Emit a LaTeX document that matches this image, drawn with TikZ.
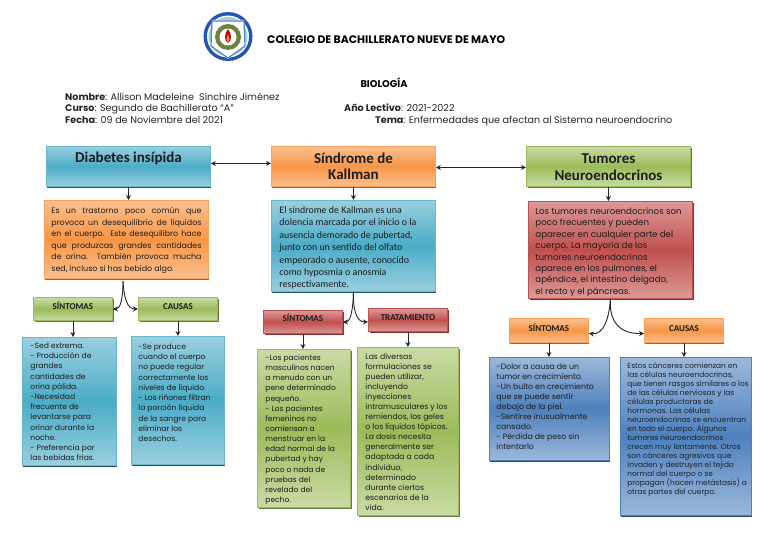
\documentclass[tikz,border=0pt]{standalone}
\usepackage{fontspec}
\usetikzlibrary{shadows,arrows.meta}
\setmainfont{Poppins}
\newfontfamily\calfam{Carlito}
\definecolor{ink}{HTML}{1C1C1C}
\definecolor{blA}{HTML}{9ACFDF}\definecolor{blB}{HTML}{4BACC6}\definecolor{blD}{HTML}{205867}
\definecolor{orA}{HTML}{FBC08F}\definecolor{orB}{HTML}{F79646}\definecolor{orD}{HTML}{C05A10}
\definecolor{grA}{HTML}{C9DBA6}\definecolor{grB}{HTML}{9BBB59}\definecolor{grD}{HTML}{667C3A}
\definecolor{reA}{HTML}{DB9A98}\definecolor{reB}{HTML}{C0504D}\definecolor{reD}{HTML}{8A302D}
\definecolor{nvA}{HTML}{9BB8DA}\definecolor{nvB}{HTML}{4F81BD}\definecolor{nvD}{HTML}{254A75}
\newcommand{\tb}[5]{\begin{minipage}[c][#2pt][t]{#1pt}\vspace*{#4pt}\raggedright\leftskip=#3pt\relax\rule{0pt}{11pt}#5\end{minipage}}
\newcommand{\jb}[5]{\begin{minipage}[c][#2pt][t]{#1pt}\vspace*{#4pt}\leftskip=#3pt\relax\rightskip=#3pt\relax\rule{0pt}{11pt}#5\end{minipage}}
\tikzset{
 x=1pt,y=-1pt,
 card/.style={anchor=north west,inner sep=0pt,line width=.9pt,text=ink,align=left},
 bluecard/.style={card,draw=blB!85!white,top color=blA,bottom color=blA,middle color=blB,general shadow={shadow xshift=.6pt,shadow yshift=-2pt,fill=blD}},
 orangecard/.style={card,draw=orB!90!white,top color=orA,bottom color=orA,middle color=orB,general shadow={shadow xshift=.6pt,shadow yshift=-2pt,fill=orD}},
 greencard/.style={card,draw=grB,top color=grA,bottom color=grA,middle color=grB,general shadow={shadow xshift=1.2pt,shadow yshift=-2pt,fill=grD}},
 redcard/.style={card,draw=reB,top color=reA,bottom color=reA,middle color=reB,general shadow={shadow xshift=1.2pt,shadow yshift=-2pt,fill=reD}},
 navycard/.style={card,draw=nvB,top color=nvA,bottom color=nvA,middle color=nvB,general shadow={shadow xshift=.8pt,shadow yshift=-2pt,fill=nvD}},
 headtext/.style={font=\calfam\fontsize{15}{16}\selectfont\bfseries},
 smalltext/.style={font=\calfam\fontsize{9}{11}\selectfont\bfseries},
 body/.style={font=\fontsize{7.6}{10.1}\selectfont},
 link/.style={draw=black!85,line width=.9pt,-{Stealth[length=5pt,width=5pt]}},
 twolink/.style={draw=black!85,line width=.9pt,{Stealth[length=5pt,width=5pt]}-{Stealth[length=5pt,width=5pt]}},
 info/.style={anchor=base west,inner sep=0pt,font=\fontsize{9.6}{10}\selectfont,text=black!85},
}
\begin{document}
\begin{tikzpicture}
\useasboundingbox (0,0) rectangle (768,543);
\fill[white] (0,0) rectangle (768,543);
% crest
\fill[blB!60!blue!80!black] (228,36.5) circle (24.5);
\fill[white] (228,36.5) circle (21);
\fill[blA] (228,36.5) circle (19.5);
\fill[white] (212,20) -- (244,20) -- (246,46) -- (228,59) -- (210,46) -- cycle;
\draw[nvB,line width=1.2pt] (212,21) -- (244,21) -- (245,46) -- (228,58) -- (211,46) -- cycle;
\fill[grB!70!black] (228,37) circle (13);
\fill[white] (228,37) circle (8.5);
\fill[red!80!black] (228,29) .. controls (224,34) and (224,41) .. (228,43) .. controls (232,41) and (232,34) .. (228,29) -- cycle;
\fill[orB] (228,35) .. controls (226,38) and (226,41) .. (228,42) .. controls (230,41) and (230,38) .. (228,35) -- cycle;
% title
\node[anchor=base west,inner sep=0pt,font=\fontsize{10.9}{12}\selectfont\bfseries] (title) at (267,44) {COLEGIO DE BACHILLERATO NUEVE DE MAYO};
\node[anchor=base,inner sep=0pt,font=\fontsize{9.8}{10}\selectfont\bfseries] (bio) at (384,88) {BIOLOGÍA};
\node[info] (nom) at (65,100) {\textbf{Nombre}: Allison Madeleine\ \ Sinchire Jiménez};
\node[info] (cur) at (65,111.5) {\textbf{Curso}: Segundo de Bachillerato “A”};
\node[info] (fec) at (65,123) {\textbf{Fecha}: 09 de Noviembre del 2021};
\node[info] (ano) at (344,111.5) {\textbf{Año Lectivo}: 2021-2022};
\node[info] (tem) at (375,123) {\textbf{Tema}: Enfermedades que afectan al Sistema neuroendocrino};
% heads
\node[bluecard,headtext] (dia) at (46,146) {\tb{164}{40}{0}{5}{\centering Diabetes insípida}};
\node[orangecard,headtext] (kal) at (271,146) {\tb{164}{40}{0}{6}{\centering Síndrome de\\Kallman}};
\node[greencard,headtext] (tum) at (526,146) {\tb{164}{40}{0}{6}{\fontsize{15}{17}\selectfont\centering Tumores\\Neuroendocrinos}};
% descriptions
\node[orangecard,body] (dbox) at (44,200) {\jb{164}{78}{7}{2}{\fontsize{7.9}{11.6}\selectfont Es un trastorno poco común que\linebreak provoca un desequilibrio de líquidos\linebreak en el cuerpo. Este desequilibro hace\linebreak que produzcas grandes cantidades\linebreak de orina. También provoca mucha\linebreak sed, incluso si has bebido algo.}};
\node[bluecard] (kbox) at (271,200) {\tb{164}{91}{8}{2}{\calfam\fontsize{9.9}{12.4}\selectfont El síndrome de Kallman es una\\dolencia marcada por el inicio o la\\ausencia demorado de pubertad,\\junto con un sentido del olfato\\empeorado o ausente, conocido\\como hyposmia o anosmia\\respectivamente.}};
\node[redcard,body] (tbox) at (528,201) {\tb{164}{97}{7}{2}{\fontsize{8.65}{11.4}\selectfont Los tumores neuroendocrinos son\\poco frecuentes y pueden\\aparecer en cualquier parte del\\cuerpo. La mayoría de los\\tumores neuroendocrinos\\aparece en los pulmones, el\\apéndice, el intestino delgado,\\el recto y el páncreas.}};
% labels
\node[greencard,smalltext] (ds) at (33,297) {\tb{79}{23}{0}{1}{\centering SÍNTOMAS}};
\node[greencard,smalltext] (dc) at (138,297) {\tb{79}{23}{0}{1}{\centering CAUSAS}};
\node[redcard,smalltext] (ks) at (263,310) {\tb{79}{23}{0}{0}{\centering SÍNTOMAS}};
\node[redcard,smalltext] (kt) at (368,308) {\tb{79}{23}{0}{1}{\centering TRATAMIENTO}};
\node[orangecard,smalltext] (ts) at (509,318) {\tb{79}{24}{0}{2}{\centering SÍNTOMAS}};
\node[orangecard,smalltext] (tc) at (644,318) {\tb{79}{24}{0}{2}{\centering CAUSAS}};
% detail boxes
\node[bluecard,body] (d1) at (22,337) {\tb{94}{128}{8}{0}{\fontsize{7.6}{10.2}\selectfont -Sed extrema.\\- Producción de\\grandes\\cantidades de\\orina pálida.\\-Necesidad\\frecuente de\\levantarse para\\orinar durante la\\noche.\\- Preferencia por\\las bebidas frías.}};
\node[bluecard,body] (d2) at (131,336) {\tb{93}{128}{7}{2}{\fontsize{7.6}{10.25}\selectfont -Se produce\\cuando el cuerpo\\no puede regular\\correctamente los\\niveles de líquido.\\- Los riñones filtran\\la porción líquida\\de la sangre para\\eliminar los\\desechos.}};
\node[greencard,body] (k1) at (257,349) {\tb{93}{158}{8}{0}{\fontsize{7.5}{10.15}\selectfont -Los pacientes\\masculinos nacen\\a menudo con un\\pene determinado\\pequeño.\\- Los pacientes\\femeninos no\\comiensan a\\menstruar en la\\edad normal de la\\pubertad y hay\\poco o nada de\\pruebas del\\revelado del\\pecho.}};
\node[greencard,body] (k2) at (357,347) {\tb{101}{168}{8}{1}{\fontsize{7.7}{10.05}\selectfont Las diversas\\formulaciones se\\pueden utilizar,\\incluyendo\\inyecciones\\intramusculares y los\\remiendos, los geles\\o los líquidos tópicos.\\La dosis necesita\\generalmente ser\\adaptada a cada\\individuo,\\determinado\\durante ciertos\\escenarios de la\\vida.}};
\node[navycard,body] (t1) at (489,357) {\tb{120}{103}{7}{1}{\fontsize{7.8}{10}\selectfont -Dolor a causa de un\\tumor en crecimiento.\\-Un bulto en crecimiento\\que se puede sentir\\debajo de la piel.\\-Sentirse inusualmente\\cansado.\\- Pérdida de peso sin\\intentarlo}};
\node[navycard,body] (t2) at (620,357) {\tb{131}{158}{7}{0}{\fontsize{7.4}{9}\selectfont\color{ink!85!nvD} Estos cánceres comienzan en\\las células neuroendocrinas,\\que tienen rasgos similares a los\\de las células nerviosas y las\\células productoras de\\hormonas. Las células\\neuroendocrinas se encuentran\\en todo el cuerpo. Algunos\\tumores neuroendocrinos\\crecen muy lentamente. Otros\\son cánceres agresivos que\\invaden y destruyen el tejido\\normal del cuerpo o se\\propagan (hacen metástasis) a\\otras partes del cuerpo.}};
% connectors
\draw[twolink] ([yshift=3pt]dia.east) -- ([yshift=3pt]kal.west);
\draw[twolink] ([yshift=-1pt]kal.east) -- ([yshift=-1pt]tum.west);
\draw[link] (dia.south) -- (dia.south |- dbox.north);
\draw[link] (kal.south) -- (kal.south |- kbox.north);
\draw[link] (tum.south) -- (tum.south |- tbox.north);
\coordinate (da) at (123,281);
\draw[link] (da) .. controls (123,300) and (120,309) .. (ds.east);
\draw[link] (da) .. controls (124,298) and (127,309) .. (dc.west);
\draw[link] (kbox.south) .. controls (353,312) and (350,322) .. (ks.east);
\draw[link] (kbox.south) .. controls (353,312) and (357,322) .. (kt.west |- ks.east);
\draw[link] (tbox.south) .. controls (609,320) and (603,335) .. ([yshift=-3pt]ts.east);
\draw[link] (tbox.south) .. controls (609,320) and (618,334) .. ([yshift=-3pt]tc.west);
\draw[link] (ds.south) -- (ds.south |- d1.north);
\draw[link] (dc.south) -- (dc.south |- d2.north);
\draw[link] (ks.south) -- (ks.south |- k1.north);
\draw[link] (kt.south) -- (kt.south |- k2.north);
\draw[link] (ts.south) -- (ts.south |- t1.north);
\draw[link] (tc.south) -- (tc.south |- t2.north);
\end{tikzpicture}
\end{document}
